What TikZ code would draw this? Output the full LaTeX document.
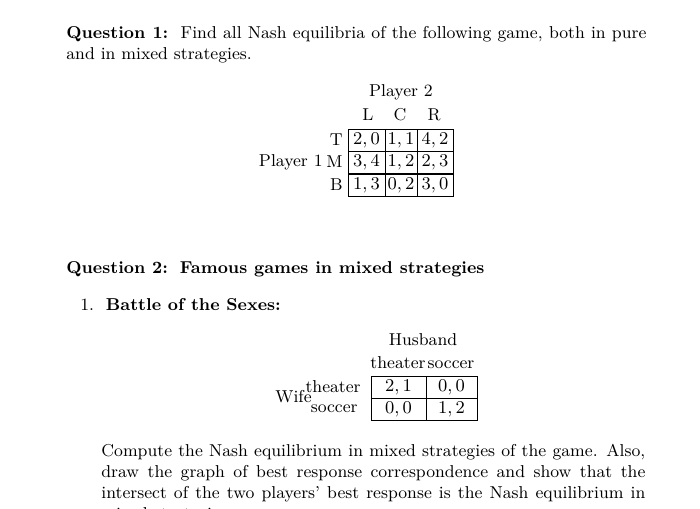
\documentclass[tikz,border=0pt]{standalone}
\begin{document}
\begin{tikzpicture}[x=0.5pt,y=-0.5pt,font=\fontsize{8.6}{10.4}\selectfont,
 cell/.style={draw,minimum width=#1,minimum height=11pt,inner sep=0pt},
 lab/.style={inner sep=0pt,anchor=base}]
\useasboundingbox (0,0) rectangle (700,508);
\node[anchor=north west,text width=290pt,align=justify,inner sep=0pt] (q1) at (66,26)
 {\textbf{Question 1:}\ \ Find all Nash equilibria of the following game, both in pure and in mixed strategies.};
\node[lab] (p2) at (401,97) {Player 2};
\node[lab] (cl) at (368,120) {L};
\node[lab] (cc) at (400,120) {C};
\node[lab] (cr) at (434,120) {R};
\foreach \r/\y/\a/\b/\c in {T/140/{2,0}/{1,1}/{4,2},M/162/{3,4}/{1,2}/{2,3},B/185/{1,3}/{0,2}/{3,0}}{
 \node[cell=18.5pt] (a\r) at (366.5,\y) {$\a$};
 \node[cell=16pt] (b\r) at (401,\y) {$\b$};
 \node[cell=18pt] (c\r) at (435,\y) {$\c$};
 \node[anchor=east,inner sep=0pt] (r\r) at (343,\y) {\r};
}
\node[anchor=east,inner sep=0pt] (p1) at (323,162) {Player 1};
\node[anchor=west,inner sep=0pt] (q2) at (66,269) {\textbf{Question 2:}\ \ \textbf{Famous games in mixed strategies}};
\node[anchor=west,inner sep=0pt] (bs) at (80,305) {1.\ \ \textbf{Battle of the Sexes:}};
\node[lab] (hb) at (423,345) {Husband};
\node[lab] (ht) at (398,368) {theater};
\node[lab] (hs) at (451,368) {soccer};
\node[cell=27.5pt] (x11) at (398.5,387) {$2,1$};
\node[cell=25.5pt] (x12) at (451.5,387) {$0,0$};
\node[cell=27.5pt] (x21) at (398.5,409) {$0,0$};
\node[cell=25.5pt] (x22) at (451.5,409) {$1,2$};
\node[anchor=east,inner sep=0pt] (wt) at (361,387) {theater};
\node[anchor=east,inner sep=0pt] (ws) at (358,409) {soccer};
\node[anchor=west,inner sep=0pt] (wf) at (275,397) {Wife};
\node[anchor=north west,text width=272pt,align=justify,inner sep=0pt] (txt) at (101,444)
 {Compute the Nash equilibrium in mixed strategies of the game. Also, draw the graph of best response correspondence and show that the intersect of the two players' best response is the Nash equilibrium in mixed strategies.};
\end{tikzpicture}
\end{document}
